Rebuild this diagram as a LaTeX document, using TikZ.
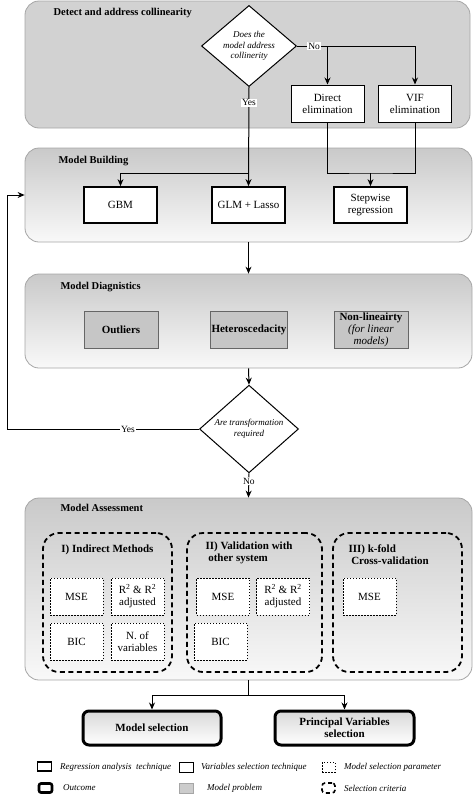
\documentclass[tikz,border=0pt]{standalone}
\usepackage{fontspec}
\setmainfont{Liberation Serif}
\usetikzlibrary{shapes.geometric, calc, arrows.meta}
\begin{document}
\begin{tikzpicture}[x=1pt,y=-1pt,font=\fontsize{11}{12}\selectfont,
  panel/.style={draw=gray!70,line width=0.8pt,rounded corners=14pt,inner sep=0pt},
  title/.style={anchor=west,font=\fontsize{10.5}{12}\selectfont\bfseries},
  tech/.style={draw,line width=1.8pt,fill=white,minimum width=73pt,minimum height=36pt,align=center,inner sep=1pt},
  varsel/.style={draw,line width=1pt,fill=white,minimum width=73pt,minimum height=37pt,align=center,inner sep=1pt},
  prob/.style={draw=gray!80!black,line width=0.6pt,fill=gray!45,minimum width=74pt,minimum height=37pt,align=center,inner sep=1pt,font=\fontsize{11}{12}\selectfont\bfseries},
  decide/.style={draw,line width=1pt,shape=diamond,fill=white,inner sep=0pt,align=center,font=\fontsize{9}{10.5}\selectfont\itshape},
  crit/.style={draw,line width=1.8pt,dash pattern=on 5pt off 3.5pt,rounded corners=16pt,minimum width=129pt,minimum height=139pt},
  param/.style={draw,line width=0.9pt,dash pattern=on 1.5pt off 1.5pt,fill=white,minimum width=53pt,minimum height=37pt,align=center,inner sep=1pt},
  outcome/.style={draw,line width=3pt,rounded corners=6pt,top color=gray!30,bottom color=white,minimum width=138pt,minimum height=34pt,align=center,font=\fontsize{11}{12}\selectfont\bfseries},
  lbl/.style={fill=white,inner sep=1pt,font=\fontsize{9.5}{10}\selectfont},
  legtxt/.style={anchor=west,inner sep=0pt,font=\fontsize{9}{10}\selectfont\itshape},
  arr/.style={line width=1pt,-{Stealth[length=7pt,width=6pt]}}]
  \useasboundingbox (0,0) rectangle (474,798);
  % panels
  \node[panel,fill=gray!35,minimum width=445pt,minimum height=127pt] (collin) at (247.5,64.5) {};
  \node[panel,top color=gray!42,bottom color=gray!5,minimum width=447pt,minimum height=94pt] (build) at (248.5,195) {};
  \node[panel,top color=gray!42,bottom color=gray!5,minimum width=447pt,minimum height=94pt] (diag) at (248.5,321) {};
  \node[panel,top color=gray!42,bottom color=gray!5,minimum width=447pt,minimum height=182pt] (assess) at (248.5,589) {};
  \node[title] at (50,13) {Detect and address collinearity};
  \node[title] at (55,161) {Model Building};
  \node[title] at (57,287) {Model Diagnistics};
  \node[title] at (57,508) {Model Assessment};
  % collinearity
  \node[decide,minimum width=95pt,minimum height=73pt] (dec) at (249,46) {Does the\\model address\\collinerity};
  \path (327.5,103.5) node[varsel] (direct) {Direct\\elimination}
        (415,103.5) node[varsel] (vif) {VIF\\elimination};
  \draw[arr] (dec.east) -- node[lbl,pos=0.1,right=-2pt]{No} (dec.east -| vif.north) -- (vif.north);
  \draw[arr] (dec.east -| direct.north) -- (direct.north);
  % model building
  \path (120.5,205) node[tech] (gbm) {GBM}
        (248.5,205) node[tech] (glm) {GLM + Lasso}
        (370.5,205) node[tech] (step) {Stepwise\\regression};
  \coordinate (yj) at (248.5,173);
  \coordinate (jn) at (370.5,173);
  \draw[arr] (dec.south) -- node[lbl,pos=0.16]{Yes} (glm.north);
  \draw[arr] (yj) -| (gbm.north);
  \draw[line width=1pt] (direct.south) |- (jn) -| (vif.south);
  \draw[arr] (jn) -- (step.north);
  % diagnostics
  \path (121,329.5) node[prob] (outl) {Outliers}
        (249,329.5) node[prob] (hetero) {Heteroscedacity}
        (371,329.5) node[prob] (nonlin) {Non-lineairty\\\normalfont\itshape(for linear\\\normalfont\itshape models)};
  \draw[arr] (build.south) -- (diag.north);
  \node[decide,minimum width=99pt,minimum height=73pt] (trans) at (249,429) {Are transformation\\required};
  \draw[arr] (diag.south) -- (trans.north);
  \coordinate (fb) at (7,429);
  \draw[arr] (trans.west) -- node[lbl,pos=0.37]{Yes} (fb) |- (build.west);
  \draw[arr] (trans.south) -- node[lbl,pos=0.32]{No} (assess.north);
  % assessment
  \path (107.5,602.5) node[crit] (gI) {}
        (254.5,602.5) node[crit,minimum width=135pt] (gII) {}
        (397.5,602.5) node[crit] (gIII) {};
  \node[font=\fontsize{11}{12}\selectfont\bfseries] at (107.5,550) {I) Indirect Methods};
  \node[anchor=west,align=left,font=\fontsize{11}{12}\selectfont\bfseries] at (202,553) {II) Validation with\\\ other system};
  \node[anchor=west,align=left,font=\fontsize{11}{12}\selectfont\bfseries] at (345,555) {III) k-fold\\\ Cross-validation};
  \path (76.5,596.5) node[param] (mseI) {MSE}
        (137.5,596.5) node[param] (rI) {R\textsuperscript{2} \& R\textsuperscript{2}\\adjusted}
        (76.5,641.5) node[param] (bicI) {BIC}
        (137.5,641.5) node[param] (nvI) {N. of\\variables}
        (223,596.5) node[param] (mseII) {MSE}
        (283,596.5) node[param] (rII) {R\textsuperscript{2} \& R\textsuperscript{2}\\adjusted}
        (220.5,641.5) node[param] (bicII) {BIC}
        (369.5,596.5) node[param] (mseIII) {MSE};
  % outcome
  \path (152,728) node[outcome] (msel) {Model selection}
        (344.5,728) node[outcome,minimum width=139pt] (pvs) {Principal Variables\\selection};
  \coordinate (bj) at (248.5,695);
  \draw[line width=1pt] (assess.south) -- (bj);
  \draw[arr] (bj) -| (msel.north);
  \draw[arr] (bj) -| (pvs.north);
  % legend
  \node[draw,line width=1.5pt,minimum width=14pt,minimum height=9pt,inner sep=0pt] (lgtech) at (44.5,766.5) {};
  \node[draw,line width=0.8pt,minimum width=14pt,minimum height=10pt,inner sep=0pt] (lgvar) at (186,767) {};
  \node[draw,line width=0.9pt,dash pattern=on 1.5pt off 1.5pt,minimum width=13pt,minimum height=10pt,inner sep=0pt] (lgpar) at (328.5,767) {};
  \node[draw,line width=2.6pt,rounded corners=2pt,minimum width=13pt,minimum height=9pt,inner sep=0pt] (lgout) at (45.5,788) {};
  \node[draw=gray!70,line width=0.5pt,fill=gray!40,minimum width=14pt,minimum height=10pt,inner sep=0pt] (lgprob) at (186,788) {};
  \node[draw,line width=1.6pt,dash pattern=on 4pt off 3pt,rounded corners=3pt,minimum width=13pt,minimum height=10pt,inner sep=0pt] (lgcrit) at (328.5,788) {};
  \node[legtxt] at (60,767) {Regression analysis\ \ technique};
  \node[legtxt] at (201,767) {Variables selection technique};
  \node[legtxt] at (344,767) {Model selection parameter};
  \node[legtxt] at (63,788) {Outcome};
  \node[legtxt] at (207,788) {Model problem};
  \node[legtxt] at (344,788) {Selection criteria};
\end{tikzpicture}
\end{document}
